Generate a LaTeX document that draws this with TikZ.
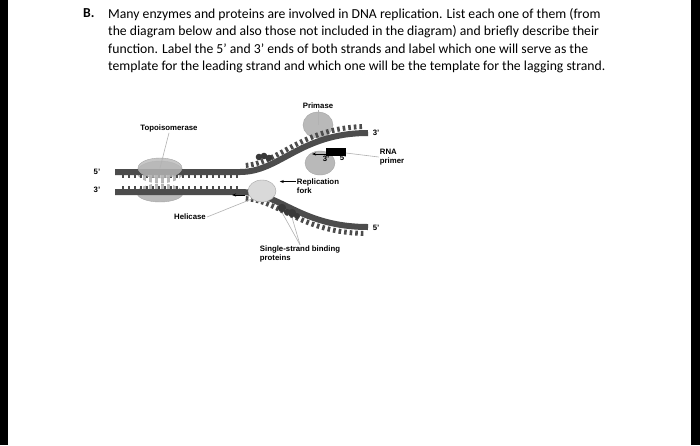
\documentclass[tikz,border=0pt]{standalone}
\usepackage{fontspec}
\setmainfont{Carlito}
\newfontfamily\lab{Liberation Sans}
\usetikzlibrary{decorations.markings,arrows.meta,shapes.geometric}
\begin{document}
\begin{tikzpicture}[x=1pt,y=-1pt,
  lbl/.style={font=\lab\bfseries\fontsize{7.8}{8.8}\selectfont,inner sep=1pt,align=left},
  blob/.style={fill=gray!55,draw=gray!70},
  strand/.style={line width=6pt,draw=gray!60!black},
  teeth/.style={postaction={decorate,decoration={markings,mark=between positions 0.04 and 0.98 step 5.5pt with {\fill[gray!60!black] (-1.3pt,0) rectangle (1.3pt,#1);}}}},
  leader/.style={draw=gray!60,line width=0.6pt}]
\useasboundingbox (0,0) rectangle (700,445);
\fill[white] (0,0) rectangle (700,445);
\fill[black] (0,0) rectangle (8,445);
\fill[black] (691,0) rectangle (700,445);
% text
\node[anchor=north west,inner sep=0,font=\fontsize{13.7}{17.4}\selectfont] (b) at (83,8) {\textbf{B.}};
\node[anchor=north west,inner sep=0,align=left,font=\fontsize{13.7}{17.4}\selectfont] (q) at (108,8) {Many enzymes and proteins are involved in DNA replication. List each one of them (from\\the diagram below and also those not included in the diagram) and briefly describe their\\function. Label the 5’ and 3’ ends of both strands and label which one will serve as the\\template for the leading strand and which one will be the template for the lagging strand.};
% blobs behind
\node[blob,ellipse,minimum width=46pt,minimum height=22pt] (topo) at (160,172) {};
\node[blob,ellipse,minimum width=46pt,minimum height=18pt] (topo2) at (160,193) {};
\node[blob,ellipse,minimum width=30pt,minimum height=26pt] (prim) at (318,125) {};
\node[blob,ellipse,minimum width=30pt,minimum height=24pt] (prim2) at (320,163) {};
% duplex
\foreach \x in {122,128,...,238} \fill[white] (\x,174) rectangle (\x+2.5,190);
\draw[strand] (115,172) -- (240,172) .. controls (280,172) and (300,133) .. (368,133);
\draw[strand] (115,192) -- (240,192) .. controls (280,192) and (300,227) .. (368,227);
\path[teeth=5pt] (242,168) .. controls (280,168) and (300,129) .. (368,129);
\path[teeth=-5pt] (242,196) .. controls (280,196) and (300,231) .. (368,231);
\foreach \x in {122,128,...,238} {\fill[gray!60!black] (\x,174) rectangle (\x+2,178);\fill[gray!60!black] (\x,186) rectangle (\x+2,190);}
% topo front
\node[blob,fill opacity=0.8,ellipse,minimum width=44pt,minimum height=20pt] (topo3) at (160,168) {};
% primer
\fill[black] (326,148) rectangle (346,156);
\coordinate (pa) at (312,154);
\draw[-{Stealth[length=4pt]},line width=0.8pt] (328,154) -- (pa);
% SSBs
\foreach \p in {(259,157),(264,156),(269,158)} \fill[gray!45!black] \p circle (3.3pt);
\node[fill=gray!45!black,circle,inner sep=3pt] (ssb1) at (282,208) {};
\node[fill=gray!45!black,circle,inner sep=3pt] (ssb2) at (292,213) {};
\fill[gray!45!black] (287,212) circle (3.2pt) (297,216) circle (3pt);
% helicase
\node[blob,fill=gray!30,ellipse,minimum width=28pt,minimum height=22pt] (heli) at (262,191) {};
\coordinate (ha) at (232,195);
\draw[-{Stealth[length=4pt]},line width=0.8pt] (245,195) -- (ha);
% labels
\node[lbl] (tl) at (169,128) {Topoisomerase};
\node[lbl] (pl) at (318,106) {Primase};
\node[lbl] (rna) at (392,157) {RNA\\primer};
\node[lbl] (rf) at (318,186) {Replication\\fork};
\node[lbl] (hl) at (190,217) {Helicase};
\node[lbl] (sl) at (300,254) {Single-strand binding\\proteins};
\node[lbl] (e1) at (97,172) {5’};
\node[lbl] (e2) at (97,190) {3’};
\node[lbl] (e3) at (376,133) {3’};
\node[lbl] (e4) at (376,228) {5’};
\node[lbl] (e5) at (326,159) {3’};
\node[lbl] (e6) at (343,158) {5’};
\draw[leader] (tl.south) -- (topo3.center);
\draw[leader] (pl.south) -- (prim.center);
\draw[leader] (rna.west) -- (346,153);
\draw[leader] (hl.east) -- (heli.south west);
\draw[leader] (sl.north) -- (ssb1.south);
\draw[leader] (sl.north) -- (ssb2.south);
\draw[-{Stealth[length=4pt]},line width=0.8pt] ([yshift=-4pt]rf.north west) -- ++(-16,0);
\end{tikzpicture}
\end{document}
